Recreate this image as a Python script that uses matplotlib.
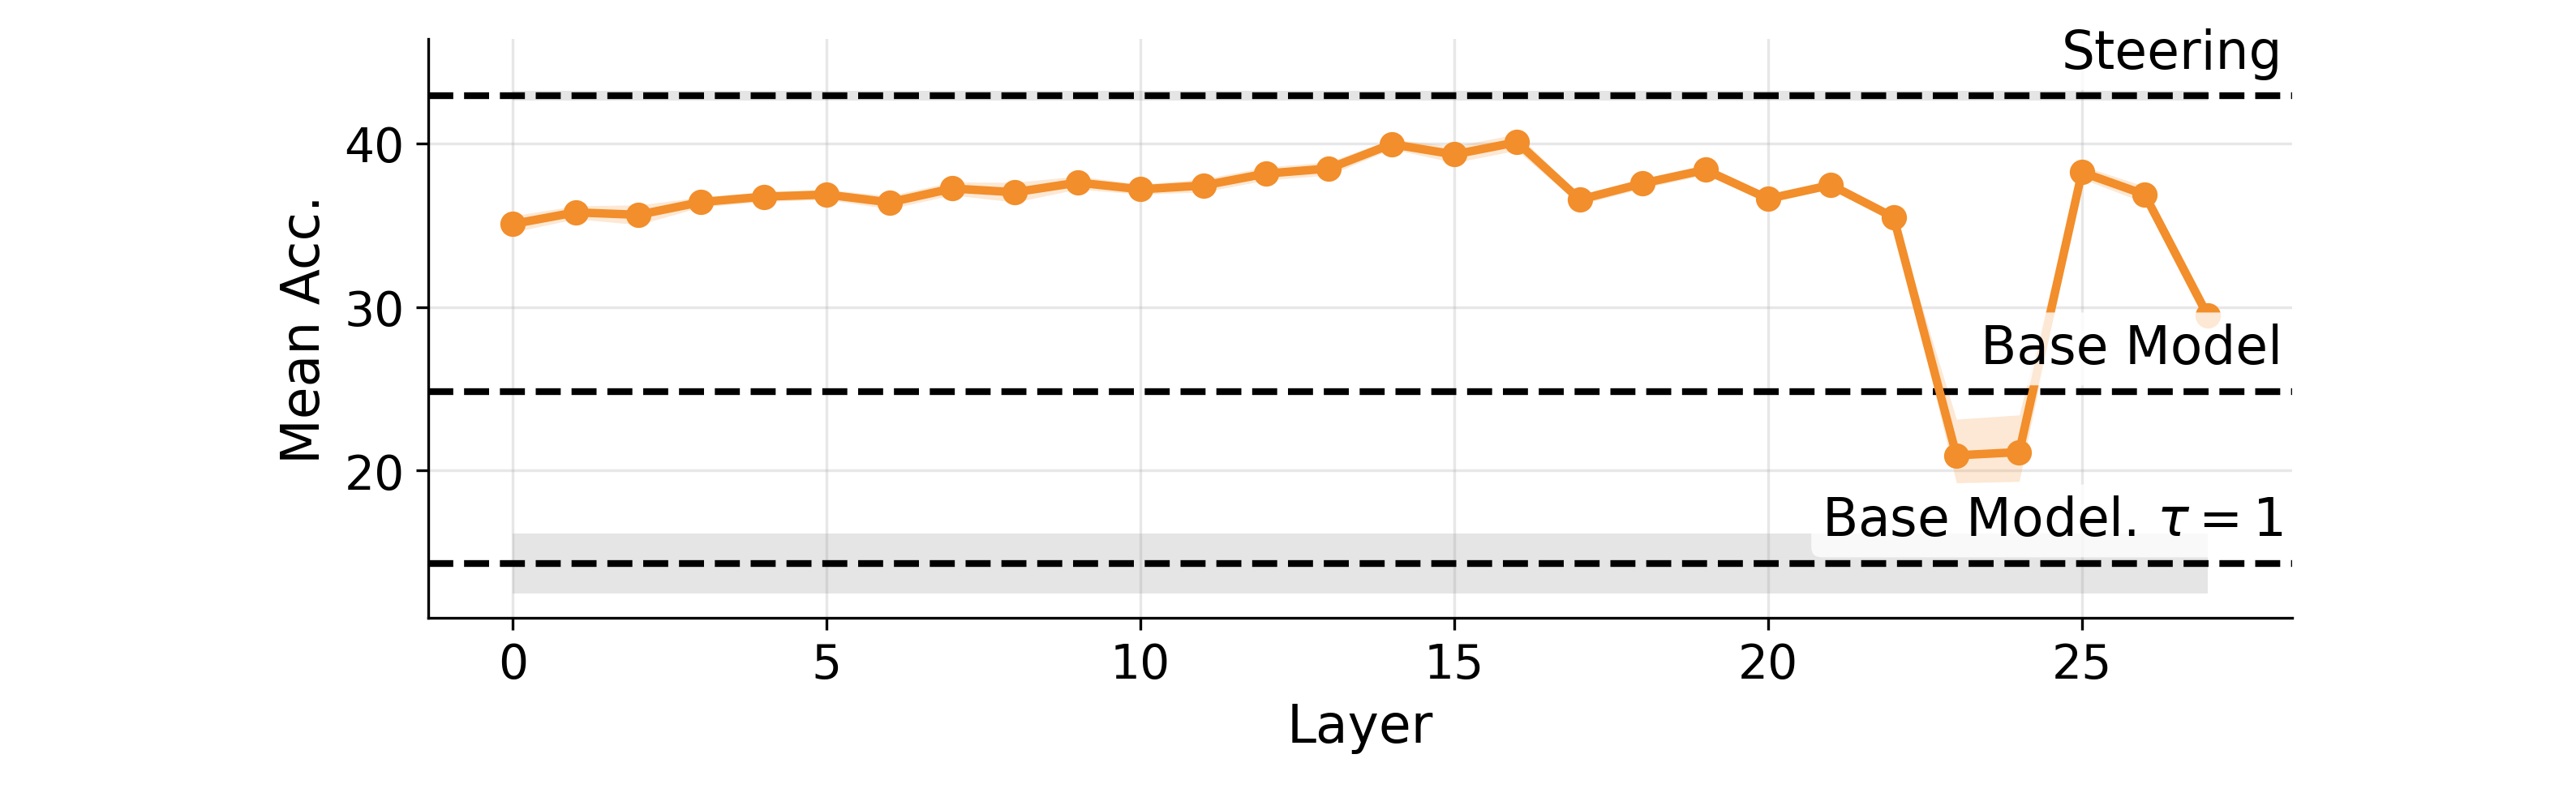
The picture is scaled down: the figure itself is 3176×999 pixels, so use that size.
import numpy as np
import matplotlib
matplotlib.use('Agg')
import matplotlib.pyplot as plt

# mean accuracy per steered layer
layers = list(range(28))
acc_mean = [35.07, 35.78, 35.63, 36.41, 36.74, 36.87, 36.39, 37.24, 37.01, 37.60,
            37.19, 37.42, 38.15, 38.46, 39.95, 39.32, 40.07, 36.56, 37.55, 38.38,
            36.61, 37.45, 35.48, 20.93, 21.13, 38.23, 36.87, 29.50]
acc_lo = [34.57, 35.38, 35.03, 36.11, 36.44, 36.57, 35.99, 36.84, 36.41, 37.20,
          36.89, 37.02, 37.75, 38.06, 39.65, 38.82, 39.57, 36.26, 37.25, 38.08,
          36.41, 37.25, 35.28, 19.25, 19.34, 37.83, 36.37, 28.90]
acc_hi = [35.57, 36.18, 36.23, 36.71, 37.04, 37.17, 36.79, 37.64, 37.61, 38.00,
          37.49, 37.82, 38.55, 38.86, 40.25, 39.82, 40.57, 36.86, 37.85, 38.68,
          36.81, 37.65, 35.68, 23.14, 23.40, 38.63, 37.37, 30.10]

# reference lines: name, mean, spread
ref_names = ['Steering', 'Base Model', r'Base Model. $\tau = 1$']
ref_mean = [42.9, 24.85, 14.34]
ref_spread = [0.3, 0.0, 1.83]

orange = '#F28E2B'

fig = plt.figure(figsize=(10.587, 3.333), dpi=300)
ax = fig.add_axes([0.1662, 0.237, 0.7236, 0.7145])

for name, m, s in zip(ref_names, ref_mean, ref_spread):
    if s > 0:
        ax.fill_between(layers, m - s, m + s, color='gray', alpha=0.2, linewidth=0)
    ax.axhline(m, color='black', linestyle='--', linewidth=2)
    ax.text(28.2, m + 1.0, name, ha='right', va='bottom', fontsize=15.5,
            bbox=dict(boxstyle='round,pad=0.2', facecolor='white', edgecolor='none', alpha=0.8))

ax.fill_between(layers, acc_lo, acc_hi, color=orange, alpha=0.2, linewidth=0)
ax.plot(layers, acc_mean, color=orange, marker='o', markersize=6.5, linewidth=2.5)

ax.set_xlim(-1.35, 28.35)
ax.set_ylim(11.0, 46.4)
ax.set_yticks([20, 30, 40])
ax.set_xticks([0, 5, 10, 15, 20, 25])
ax.tick_params(labelsize=14)
ax.set_xlabel('Layer', fontsize=15.5)
ax.set_ylabel('Mean Acc.', fontsize=15.5)
ax.grid(alpha=0.3)
ax.set_axisbelow(True)
ax.spines['top'].set_visible(False)
ax.spines['right'].set_visible(False)

plt.savefig('out.png', dpi=300)
